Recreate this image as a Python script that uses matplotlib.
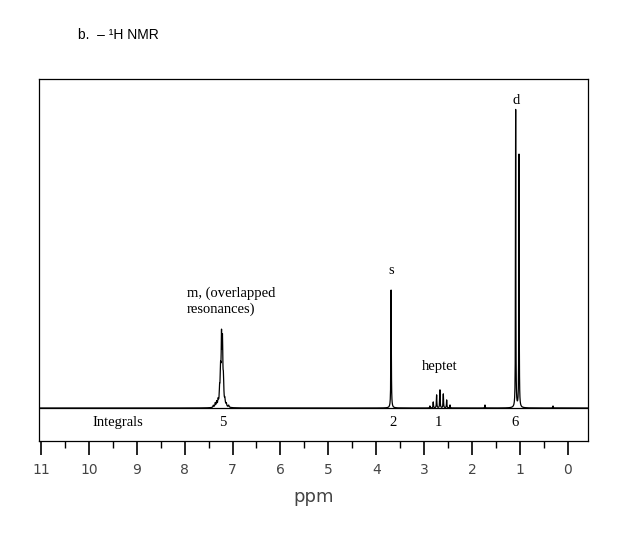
import numpy as np
import matplotlib.pyplot as plt

# peak list (ppm, height in px above baseline)
peak_ppm = [7.40, 7.36, 7.33, 7.30, 7.27, 7.25, 7.23, 7.21, 7.19, 7.16, 7.13, 7.08,
            3.69,
            2.88, 2.81, 2.74, 2.67, 2.60, 2.53, 2.46,
            1.73,
            1.09, 1.02,
            0.31]
peak_height = [2, 4, 5, 6, 14, 30, 62, 58, 22, 6, 3, 2,
               118,
               2, 6, 13, 18, 14, 8, 3,
               3,
               298, 253,
               2]
peak_width = [0.009] * 12 + [0.005] + [0.005] * 7 + [0.005] + [0.004, 0.004] + [0.005]

# labels
mult_labels = ["d", "s", "heptet", "m, (overlapped\nresonances)"]
mult_pos = [(1.09, 308), (3.69, 138), (2.67, 42), (7.95, 107)]
integral_vals = ["5", "2", "1", "6"]
integral_pos = [7.20, 3.66, 2.70, 1.10]

x = np.linspace(-0.45, 11.05, 40000)
y = np.zeros_like(x)
for p, h, w in zip(peak_ppm, peak_height, peak_width):
    y += h / (1 + ((x - p) / w) ** 2)

fig = plt.figure(figsize=(6.25, 5.39), dpi=100)
ax = fig.add_axes([0.0624, 0.1818, 0.8784, 0.6716])
ax.plot(x, y, color='black', lw=0.9)
ax.axhline(0, color='black', lw=0.9)
ax.set_xlim(11.04, -0.42)
ax.set_ylim(-33, 329)

for lab, (px, py) in zip(mult_labels, mult_pos):
    if lab.startswith("m"):
        ax.text(px, py, lab, family='Liberation Serif', fontsize=10.5, ha='left', va='center', linespacing=1.25)
    else:
        ax.text(px, py, lab, family='Liberation Serif', fontsize=10.5, ha='center', va='center')

ax.text(9.39, -14, "Integrals", family='Liberation Serif', fontsize=10.5, ha='center', va='center')
for lab, px in zip(integral_vals, integral_pos):
    ax.text(px, -14, lab, family='Liberation Serif', fontsize=10.5, ha='center', va='center')

ax.set_yticks([])
ax.set_xticks(np.arange(0, 12, 1))
ax.set_xticks(np.arange(0.5, 11, 1), minor=True)
ax.tick_params(axis='x', which='major', direction='out', length=10, width=1.2, pad=6,
               labelsize=10, labelcolor='#444444')
ax.tick_params(axis='x', which='minor', direction='out', length=5, width=1.0)
ax.set_xlabel("ppm", fontsize=13, color='#444444', labelpad=8)
for s in ax.spines.values():
    s.set_linewidth(0.9)

fig.text(78 / 625, 1 - 35 / 539, "b.  \u2013 \u00b9H NMR", family='Liberation Sans', fontsize=10,
         ha='left', va='center')

fig.savefig("out.png", dpi=100)
